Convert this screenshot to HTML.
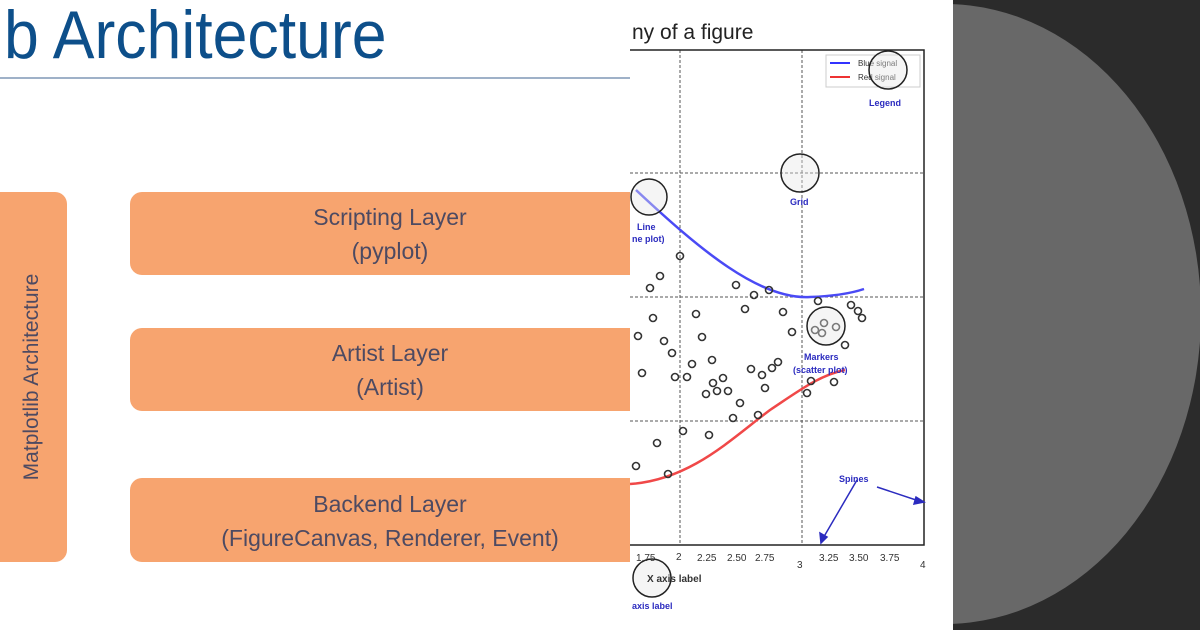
<!DOCTYPE html>
<html style="overflow:hidden"><head><style>
html,body{margin:0;width:1200px;height:630px;overflow:hidden}
body{position:relative;background:#fff;font-family:"Liberation Sans",sans-serif}
.left{position:absolute;left:0;top:0;width:630px;height:630px;background:#fff;overflow:hidden}
.title{position:absolute;left:4px;top:-4px;font-size:68px;color:#0d4f8a;white-space:nowrap;transform:scaleX(0.92);transform-origin:0 0}
.rule{position:absolute;left:0;top:77px;width:630px;height:2px;background:#9fb1c8}
.box{position:absolute;background:#f7a46f;border-radius:12px;color:#4d4a62;text-align:center;font-size:23px;line-height:34px}
.right{position:absolute;left:953px;top:0;width:247px;height:630px;background:#2b2b2b;overflow:hidden}
.lab{font-family:"Liberation Sans",sans-serif;font-weight:bold;fill:#2b2bbf;font-size:9px}
</style></head><body>
<div class="left">
<div class="title">b Architecture</div>
<div class="rule"></div>
<div class="box" style="left:-12px;top:192px;width:79px;height:370px"></div>
<div style="position:absolute;left:32px;top:377px;width:0;height:0;">
<div style="position:absolute;left:-130px;top:-12px;width:260px;height:24px;line-height:24px;text-align:center;transform:rotate(-90deg);white-space:nowrap;color:#4d4a62;font-size:21px">Matplotlib Architecture</div></div>
<div class="box" style="left:130px;top:192px;width:520px;height:83px;padding-top:8px;box-sizing:border-box">Scripting Layer<br>(pyplot)</div>
<div class="box" style="left:130px;top:328px;width:520px;height:83px;padding-top:8px;box-sizing:border-box">Artist Layer<br>(Artist)</div>
<div class="box" style="left:130px;top:478px;width:520px;height:84px;padding-top:9px;box-sizing:border-box">Backend Layer<br>(FigureCanvas, Renderer, Event)</div>
</div>
<svg style="position:absolute;left:630px;top:0" width="323" height="630" viewBox="630 0 323 630">
<rect x="630" y="0" width="323" height="630" fill="#fff"/>
<text x="632" y="39" font-size="21" font-family="Liberation Sans" fill="#222">ny of a figure</text>
<g stroke="#555" stroke-width="1" stroke-dasharray="3,2">
<line x1="680" y1="50" x2="680" y2="545"/><line x1="802" y1="50" x2="802" y2="545"/>
<line x1="630" y1="173" x2="924" y2="173"/><line x1="630" y1="297" x2="924" y2="297"/><line x1="630" y1="421" x2="924" y2="421"/>
</g>
<rect x="620" y="50" width="304" height="495" fill="none" stroke="#222" stroke-width="1.5"/>
<rect x="826" y="55" width="94" height="32" fill="#fff" stroke="#ccc"/>
<line x1="830" y1="63" x2="850" y2="63" stroke="#33f" stroke-width="2"/>
<line x1="830" y1="77" x2="850" y2="77" stroke="#e33" stroke-width="2"/>
<text x="858" y="66" font-size="8" fill="#333">Blue signal</text><text x="858" y="80" font-size="8" fill="#333">Red signal</text>
<path d="M636 190 C 700 250, 760 300, 810 297 C 840 296, 855 292, 864 289" fill="none" stroke="#4a4af5" stroke-width="2.5"/>
<path d="M630 484 C 690 480, 730 440, 770 410 C 800 390, 820 375, 845 370" fill="none" stroke="#f04848" stroke-width="2.5"/>
<g fill="none" stroke="#333" stroke-width="1.6">
<circle cx="680" cy="256" r="3.5"/><circle cx="660" cy="276" r="3.5"/><circle cx="650" cy="288" r="3.5"/><circle cx="736" cy="285" r="3.5"/><circle cx="754" cy="295" r="3.5"/><circle cx="769" cy="290" r="3.5"/><circle cx="818" cy="301" r="3.5"/><circle cx="851" cy="305" r="3.5"/><circle cx="858" cy="311" r="3.5"/><circle cx="862" cy="318" r="3.5"/><circle cx="653" cy="318" r="3.5"/><circle cx="696" cy="314" r="3.5"/><circle cx="745" cy="309" r="3.5"/><circle cx="783" cy="312" r="3.5"/><circle cx="638" cy="336" r="3.5"/><circle cx="664" cy="341" r="3.5"/><circle cx="672" cy="353" r="3.5"/><circle cx="702" cy="337" r="3.5"/><circle cx="712" cy="360" r="3.5"/><circle cx="692" cy="364" r="3.5"/><circle cx="642" cy="373" r="3.5"/><circle cx="675" cy="377" r="3.5"/><circle cx="687" cy="377" r="3.5"/><circle cx="713" cy="383" r="3.5"/><circle cx="723" cy="378" r="3.5"/><circle cx="706" cy="394" r="3.5"/><circle cx="717" cy="391" r="3.5"/><circle cx="728" cy="391" r="3.5"/><circle cx="740" cy="403" r="3.5"/><circle cx="751" cy="369" r="3.5"/><circle cx="762" cy="375" r="3.5"/><circle cx="765" cy="388" r="3.5"/><circle cx="772" cy="368" r="3.5"/><circle cx="778" cy="362" r="3.5"/><circle cx="758" cy="415" r="3.5"/><circle cx="733" cy="418" r="3.5"/><circle cx="683" cy="431" r="3.5"/><circle cx="709" cy="435" r="3.5"/><circle cx="657" cy="443" r="3.5"/><circle cx="668" cy="474" r="3.5"/><circle cx="636" cy="466" r="3.5"/><circle cx="792" cy="332" r="3.5"/><circle cx="815" cy="330" r="3.5"/><circle cx="824" cy="323" r="3.5"/><circle cx="836" cy="327" r="3.5"/><circle cx="822" cy="333" r="3.5"/><circle cx="834" cy="382" r="3.5"/><circle cx="807" cy="393" r="3.5"/><circle cx="811" cy="381" r="3.5"/><circle cx="845" cy="345" r="3.5"/>
</g>
<g fill="rgba(230,230,230,0.4)" stroke="#222" stroke-width="1.5">
<circle cx="800" cy="173" r="19"/><circle cx="649" cy="197" r="18"/><circle cx="888" cy="70" r="19"/><circle cx="826" cy="326" r="19"/><circle cx="652" cy="578" r="19"/>
</g>
<text class="lab" x="790" y="205">Grid</text>
<text class="lab" x="869" y="106">Legend</text>
<text class="lab" x="637" y="230">Line</text><text class="lab" x="632" y="242">ne plot)</text>
<text class="lab" x="804" y="360">Markers</text><text class="lab" x="793" y="373">(scatter plot)</text>
<text class="lab" x="839" y="482">Spines</text>
<text class="lab" x="632" y="609">axis label</text>
<g stroke="#2b2bbf" stroke-width="1.5" fill="#2b2bbf">
<line x1="857" y1="480" x2="822" y2="540"/><polygon points="821,543 820,533 827,537"/>
<line x1="877" y1="487" x2="922" y2="502"/><polygon points="924,502 914,504 916,497"/>
</g>
<g font-size="10" fill="#333" font-family="Liberation Sans">
<text x="636" y="561">1.75</text><text x="676" y="560">2</text><text x="697" y="561">2.25</text><text x="727" y="561">2.50</text><text x="755" y="561">2.75</text><text x="797" y="568">3</text><text x="819" y="561">3.25</text><text x="849" y="561">3.50</text><text x="880" y="561">3.75</text><text x="920" y="568">4</text>
<text x="647" y="582" font-weight="bold">X axis label</text>
</g>
</svg>
<svg class="right" width="247" height="630" viewBox="953 0 247 630">
<rect x="953" y="0" width="247" height="630" fill="#2b2b2b"/>
<ellipse cx="945" cy="314" rx="256" ry="310" fill="#686868"/>
</svg>
</body></html>
